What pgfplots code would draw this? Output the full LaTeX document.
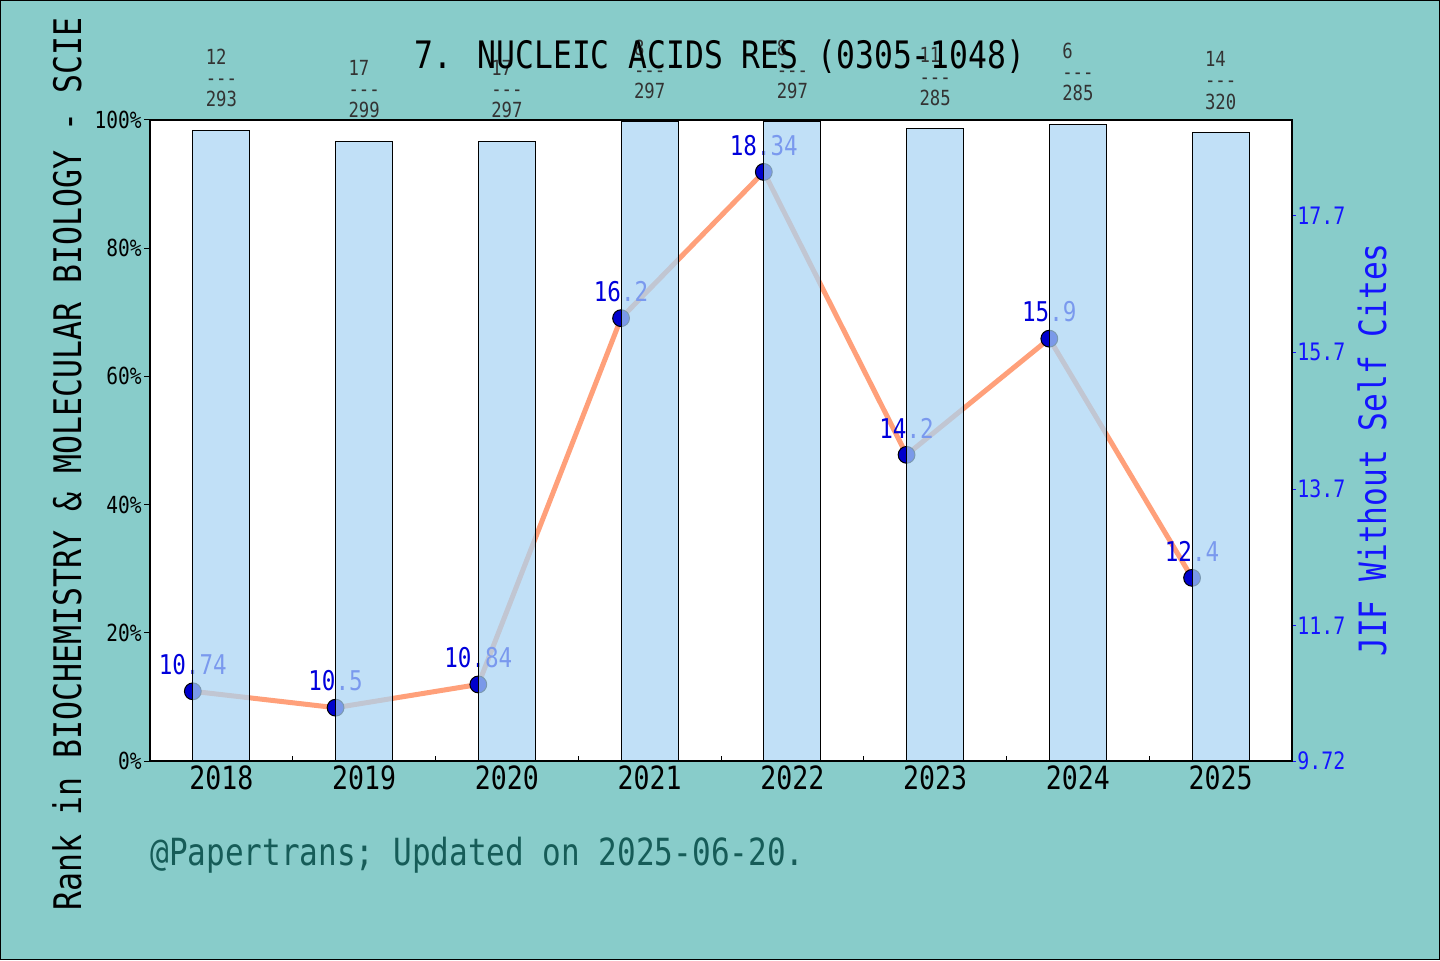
\documentclass[border=0pt]{standalone}
\usepackage{fontspec}
\usepackage{pgfplots}
\usepackage{pgfplotstable}
\pgfplotsset{compat=1.18}

% narrow mono sans, close to the half-width latin of a CJK hei font
\newfontfamily\hei[FakeStretch=0.83]{DejaVu Sans Mono}
\newcommand{\hs}[1]{\hei\fontsize{#1}{#1}\selectfont}

\definecolor{bgteal}{RGB}{136,204,202}
\definecolor{barblue}{RGB}{170,213,245}
\definecolor{salmon}{RGB}{255,160,122}
\definecolor{dotblue}{RGB}{0,0,205}
\definecolor{lblblue}{RGB}{0,0,220}
\definecolor{axblue}{RGB}{20,20,255}
\definecolor{foot}{RGB}{22,92,88}
\definecolor{rankgray}{RGB}{51,51,51}

% JIF without self cites (right axis), plotted at the left edge of each bar
\pgfplotstableread{
x    jif   label
-0.2 10.74 10.74
0.8  10.5  10.5
1.8  10.84 10.84
2.8  16.2  16.2
3.8  18.34 18.34
4.8  14.2  14.2
5.8  15.9  15.9
6.8  12.4  12.4
}\jiftable

% rank percentile (left axis)
\pgfplotstableread{
x rank
0 98.4
1 96.7
2 96.7
3 99.7
4 99.7
5 98.6
6 99.3
7 98.0
}\ranktable

\begin{document}
\begin{tikzpicture}
\useasboundingbox (0,0) rectangle (720pt,480pt);
\fill[bgteal] (0,0) rectangle (720pt,480pt);
\draw[black, line width=0.5pt] (0.25pt,0.25pt) rectangle (719.75pt,479.75pt);
\fill[white] (75pt,99.5pt) rectangle (646pt,420pt);

% right axis: JIF line
\begin{axis}[
  at={(75pt,99.5pt)}, anchor=south west,
  width=571pt, height=320.5pt, scale only axis,
  xmin=-0.5, xmax=7.5, ymin=9.72, ymax=19.1,
  hide x axis,
  axis y line*=right,
  y axis line style={draw=none},
  ytick={9.72,11.7,13.7,15.7,17.7},
  yticklabels={9.72,11.7,13.7,15.7,17.7},
  tick align=outside, major tick length=2pt,
  ytick style={axblue, line width=0.5pt},
  yticklabel style={font=\hs{12}, text=axblue, inner sep=0pt, xshift=0.5pt},
  clip=false,
]
\addplot[salmon, line width=2.5pt,
  mark=*, mark size=4.2pt,
  mark options={fill=dotblue, draw=black, line width=0.5pt},
  nodes near coords, point meta=explicit symbolic,
  every node near coord/.append style={font=\hs{13.6}, text=lblblue,
    anchor=south, inner sep=0pt, yshift=8pt}]
  table[x=x, y=jif, meta=label] {\jiftable};
\end{axis}

% left axis: rank bars, drawn over the line
\begin{axis}[
  at={(75pt,99.5pt)}, anchor=south west,
  width=571pt, height=320.5pt, scale only axis,
  xmin=-0.5, xmax=7.5, ymin=0, ymax=100,
  axis on top,
  axis line style={line width=1.3pt},
  xtick={0,...,7},
  xticklabels={2018,2019,2020,2021,2022,2023,2024,2025},
  ytick={0,20,40,60,80,100},
  yticklabels={0\%,20\%,40\%,60\%,80\%,100\%},
  xtick pos=bottom, ytick pos=left,
  tick align=outside, major tick length=3pt,
  xtick style={draw=none},
  ytick style={black, line width=0.5pt},
  xticklabel style={font=\hs{16}, inner sep=0pt, yshift=1pt},
  yticklabel style={font=\hs{11.75}, inner sep=0pt, xshift=-1pt},
  clip=false,
]
\addplot[ybar, bar width=0.4, bar shift=0pt, fill=barblue, fill opacity=0.72,
  draw=black, line width=0.5pt]
  table[x=x, y=rank] {\ranktable};

\begin{scope}[every node/.style={anchor=south, align=left, inner sep=0pt,
    yshift=11.5pt, text=rankgray, font=\hei\fontsize{10.4}{10.6}\selectfont}]
\node at (axis cs:0,98.4) {12\\{-}{-}{-}\\293};
\node at (axis cs:1,96.7) {17\\{-}{-}{-}\\299};
\node at (axis cs:2,96.7) {17\\{-}{-}{-}\\297};
\node at (axis cs:3,99.7) {8\\{-}{-}{-}\\297};
\node at (axis cs:4,99.7) {8\\{-}{-}{-}\\297};
\node at (axis cs:5,98.6) {11\\{-}{-}{-}\\285};
\node at (axis cs:6,99.3) {6\\{-}{-}{-}\\285};
\node at (axis cs:7,98.0) {14\\{-}{-}{-}\\320};
\end{scope}
\end{axis}

% inward minor ticks between categories
\begin{axis}[
  at={(75pt,99.5pt)}, anchor=south west,
  width=571pt, height=320.5pt, scale only axis,
  xmin=-0.5, xmax=7.5, ymin=0, ymax=1,
  axis x line*=bottom, hide y axis,
  x axis line style={draw=none},
  xtick={0.5,1.5,...,6.5}, xticklabels={},
  tick align=inside, major tick length=2.5pt,
  xtick style={black, line width=0.5pt},
]
\addplot[draw=none] coordinates {(0,0)};
\end{axis}

\node[font=\hs{18.9}] at (360pt,451.5pt) {7. NUCLEIC ACIDS RES (0305-1048)};
\node[rotate=90, font=\hs{19}] at (33.5pt,248pt)
  {Rank in BIOCHEMISTRY \& MOLECULAR BIOLOGY - SCIE};
\node[rotate=90, font=\hs{18.8}, text=axblue] at (686pt,255pt)
  {JIF Without Self Cites};
\node[anchor=west, inner sep=0pt, font=\hs{18.7}, text=foot] at (75pt,52.5pt)
  {@Papertrans; Updated on 2025-06-20.};
\end{tikzpicture}
\end{document}
